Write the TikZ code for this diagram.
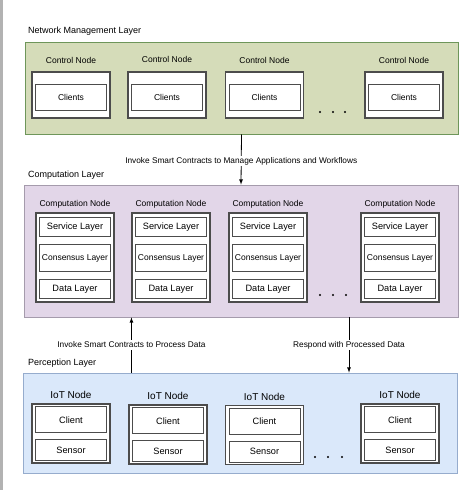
\documentclass[tikz,border=0pt]{standalone}
\usepackage{fontspec}
\setmainfont{Liberation Sans}
\usetikzlibrary{positioning,arrows}
\definecolor{netfill}{RGB}{213,220,185}
\definecolor{netdraw}{RGB}{110,150,90}
\definecolor{compfill}{RGB}{226,214,232}
\definecolor{compdraw}{RGB}{165,155,172}
\definecolor{perfill}{RGB}{218,232,250}
\definecolor{perdraw}{RGB}{150,172,205}
\tikzstyle{layer}=[rectangle,line width=0.8pt,inner sep=0pt]
\tikzstyle{nodebox}=[rectangle,draw=black!70,line width=1.1pt,fill=white,
minimum width=78pt,inner sep=0pt]
\tikzstyle{inbox}=[rectangle,draw=black!70,line width=0.8pt,fill=white,
minimum width=71pt,inner sep=0pt,font=\fontsize{8.5}{10}\selectfont]
\tikzstyle{lbl}=[inner sep=0pt,text height=6.5pt,text depth=1.5pt,
font=\fontsize{8.5}{10}\selectfont]
\tikzstyle{title}=[anchor=base west,inner sep=0pt,font=\fontsize{9}{11}\selectfont]
\tikzstyle{msg}=[fill=white,inner sep=1.5pt,font=\fontsize{8.3}{10}\selectfont]

\begin{document}
\begin{tikzpicture}[x=1pt,y=-1pt,>=latex]
            \useasboundingbox (0,0) rectangle (474,495);
            \fill[black!30] (0,0) rectangle (2.5,490);

            % NETWORK MANAGEMENT PART

            \node[title] (tnet) at (28,33.3) {Network Management Layer};
            \node[layer,draw=netdraw,fill=netfill,minimum width=433pt,minimum height=92pt] (lnet) at (241.5,88) {};

            \node[nodebox,minimum height=46pt,label={[lbl,label distance=6.5pt]above:Control Node}] (cn1) at (71,95) {};
            \node[nodebox,minimum height=46pt,label={[lbl,label distance=7pt]above:Control Node}] (cn2) at (167,95) {};
            \node[nodebox,minimum height=46pt,label={[lbl,label distance=6.5pt]above:Control Node}] (cn3) at (264.5,95) {};
            \node[nodebox,minimum height=46pt,label={[lbl,label distance=6.5pt]above:Control Node}] (cn4) at (404,95) {};

            \node[inbox,minimum height=26pt] (cl1) at ([yshift=-2pt]cn1.center) {Clients};
            \node[inbox,minimum height=26pt] (cl2) at ([yshift=-2pt]cn2.center) {Clients};
            \node[inbox,minimum height=26pt] (cl3) at ([yshift=-2pt]cn3.center) {Clients};
            \node[inbox,minimum height=26pt] (cl4) at ([yshift=-2pt]cn4.center) {Clients};

            \fill (320,112) circle (1.2) (333,112) circle (1.2) (345,112) circle (1.2);

            % COMPUTATION PART

            \node[title] (tcomp) at (28,177.3) {Computation Layer};
            \node[layer,draw=compdraw,fill=compfill,minimum width=434pt,minimum height=132pt] (lcomp) at (241,251) {};

            \node[nodebox,minimum height=89pt,label={[lbl,label distance=4.5pt]above:Computation Node}] (pn1) at (75,257.5) {};
            \node[nodebox,minimum height=89pt,label={[lbl,label distance=4.5pt]above:Computation Node}] (pn2) at (171,257.5) {};
            \node[nodebox,minimum height=89pt,label={[lbl,label distance=4.5pt]above:Computation Node}] (pn3) at (268,257.5) {};
            \node[nodebox,minimum height=89pt,label={[lbl,label distance=4.5pt]above:Computation Node}] (pn4) at (400,257.5) {};

            \node[inbox,minimum height=19pt,below=5pt of pn1.north,font=\fontsize{9.2}{11}\selectfont] (sl1) {Service Layer};
            \node[inbox,minimum height=27pt,below=7pt of sl1] (cs1) {Consensus Layer};
            \node[inbox,minimum height=19pt,below=7pt of cs1,font=\fontsize{9.2}{11}\selectfont] (dl1) {Data Layer};

            \node[inbox,minimum height=19pt,below=5pt of pn2.north,font=\fontsize{9.2}{11}\selectfont] (sl2) {Service Layer};
            \node[inbox,minimum height=27pt,below=7pt of sl2] (cs2) {Consensus Layer};
            \node[inbox,minimum height=19pt,below=7pt of cs2,font=\fontsize{9.2}{11}\selectfont] (dl2) {Data Layer};

            \node[inbox,minimum height=19pt,below=5pt of pn3.north,font=\fontsize{9.2}{11}\selectfont] (sl3) {Service Layer};
            \node[inbox,minimum height=27pt,below=7pt of sl3] (cs3) {Consensus Layer};
            \node[inbox,minimum height=19pt,below=7pt of cs3,font=\fontsize{9.2}{11}\selectfont] (dl3) {Data Layer};

            \node[inbox,minimum height=19pt,below=5pt of pn4.north,font=\fontsize{9.2}{11}\selectfont] (sl4) {Service Layer};
            \node[inbox,minimum height=27pt,below=7pt of sl4] (cs4) {Consensus Layer};
            \node[inbox,minimum height=19pt,below=7pt of cs4,font=\fontsize{9.2}{11}\selectfont] (dl4) {Data Layer};

            \fill (320,295) circle (1.2) (333,295) circle (1.2) (346,295) circle (1.2);

            % PERCEPTION PART

            \node[title] (tper) at (28,365.3) {Perception Layer};
            \node[layer,draw=perdraw,fill=perfill,minimum width=434pt,minimum height=100pt] (lper) at (240,423) {};

            \node[nodebox,minimum height=59pt,label={[lbl,label distance=3pt,font=\fontsize{10}{12}\selectfont]above:IoT Node}] (io1) at (71,433.5) {};
            \node[nodebox,minimum height=59pt,label={[lbl,label distance=3pt,font=\fontsize{10}{12}\selectfont]above:IoT Node}] (io2) at (168,434.5) {};
            \node[nodebox,minimum height=59pt,label={[lbl,label distance=3pt,font=\fontsize{10}{12}\selectfont]above:IoT Node}] (io3) at (264.5,435) {};
            \node[nodebox,minimum height=59pt,label={[lbl,label distance=3pt,font=\fontsize{10}{12}\selectfont]above:IoT Node}] (io4) at (400,433.5) {};

            \node[inbox,minimum height=26pt,below=3pt of io1.north,font=\fontsize{9.2}{11}\selectfont] (ct1) {Client};
            \node[inbox,minimum height=21pt,below=6pt of ct1,font=\fontsize{9.2}{11}\selectfont] (sn1) {Sensor};
            \node[inbox,minimum height=26pt,below=3pt of io2.north,font=\fontsize{9.2}{11}\selectfont] (ct2) {Client};
            \node[inbox,minimum height=21pt,below=6pt of ct2,font=\fontsize{9.2}{11}\selectfont] (sn2) {Sensor};
            \node[inbox,minimum height=26pt,below=3pt of io3.north,font=\fontsize{9.2}{11}\selectfont] (ct3) {Client};
            \node[inbox,minimum height=21pt,below=6pt of ct3,font=\fontsize{9.2}{11}\selectfont] (sn3) {Sensor};
            \node[inbox,minimum height=26pt,below=3pt of io4.north,font=\fontsize{9.2}{11}\selectfont] (ct4) {Client};
            \node[inbox,minimum height=21pt,below=6pt of ct4,font=\fontsize{9.2}{11}\selectfont] (sn4) {Sensor};

            \fill (315,457) circle (1.2) (328,457) circle (1.2) (342,457) circle (1.2);

            % Connections of Layers

            \draw[->,line width=0.8pt] (lnet.south) -- node[msg,pos=0.53] {Invoke Smart Contracts to Manage Applications and Workflows} (lcomp.north);
            \draw[->,line width=0.8pt] (lper.north -| pn2.west) -- node[msg] {Invoke Smart Contracts to Process Data} (lcomp.south -| pn2.west);
            \draw[->,line width=0.8pt] ([xshift=108pt]lcomp.south) -- node[msg] {Respond with Processed Data} ([xshift=109pt]lper.north);

        \end{tikzpicture}
\end{document}
